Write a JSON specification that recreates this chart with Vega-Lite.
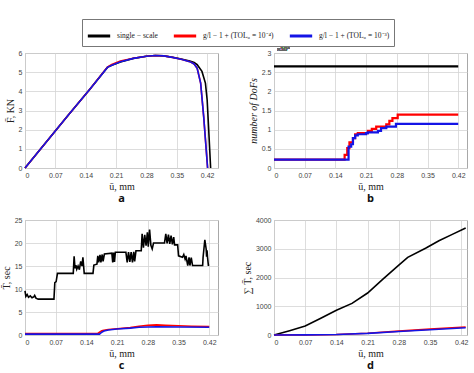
{
  "$schema": "https://vega.github.io/schema/vega-lite/v6.json",
  "padding": {"left": 0, "top": 18, "right": 8, "bottom": 0},
  "datasets": {
    "a": [
      {"s": "single − scale", "u": 0, "v": 0},
      {"s": "single − scale", "u": 0.05, "v": 1.38},
      {"s": "single − scale", "u": 0.1, "v": 2.76},
      {"s": "single − scale", "u": 0.15, "v": 4.12},
      {"s": "single − scale", "u": 0.19, "v": 5.25},
      {"s": "single − scale", "u": 0.2, "v": 5.36},
      {"s": "single − scale", "u": 0.22, "v": 5.53},
      {"s": "single − scale", "u": 0.25, "v": 5.72},
      {"s": "single − scale", "u": 0.28, "v": 5.83},
      {"s": "single − scale", "u": 0.3, "v": 5.87},
      {"s": "single − scale", "u": 0.32, "v": 5.85},
      {"s": "single − scale", "u": 0.34, "v": 5.78},
      {"s": "single − scale", "u": 0.36, "v": 5.69},
      {"s": "single − scale", "u": 0.38, "v": 5.58},
      {"s": "single − scale", "u": 0.39, "v": 5.5},
      {"s": "single − scale", "u": 0.397, "v": 5.39},
      {"s": "single − scale", "u": 0.408, "v": 5.04},
      {"s": "single − scale", "u": 0.416, "v": 4.43},
      {"s": "single − scale", "u": 0.42, "v": 3.55},
      {"s": "single − scale", "u": 0.424, "v": 1.8},
      {"s": "single − scale", "u": 0.428, "v": 0},
      {"s": "g/l − 1 + (TOLᵤ = 10⁻⁴)", "u": 0, "v": 0},
      {"s": "g/l − 1 + (TOLᵤ = 10⁻⁴)", "u": 0.05, "v": 1.38},
      {"s": "g/l − 1 + (TOLᵤ = 10⁻⁴)", "u": 0.1, "v": 2.76},
      {"s": "g/l − 1 + (TOLᵤ = 10⁻⁴)", "u": 0.15, "v": 4.12},
      {"s": "g/l − 1 + (TOLᵤ = 10⁻⁴)", "u": 0.19, "v": 5.27},
      {"s": "g/l − 1 + (TOLᵤ = 10⁻⁴)", "u": 0.2, "v": 5.4},
      {"s": "g/l − 1 + (TOLᵤ = 10⁻⁴)", "u": 0.22, "v": 5.58},
      {"s": "g/l − 1 + (TOLᵤ = 10⁻⁴)", "u": 0.25, "v": 5.73},
      {"s": "g/l − 1 + (TOLᵤ = 10⁻⁴)", "u": 0.28, "v": 5.83},
      {"s": "g/l − 1 + (TOLᵤ = 10⁻⁴)", "u": 0.3, "v": 5.87},
      {"s": "g/l − 1 + (TOLᵤ = 10⁻⁴)", "u": 0.32, "v": 5.85},
      {"s": "g/l − 1 + (TOLᵤ = 10⁻⁴)", "u": 0.34, "v": 5.77},
      {"s": "g/l − 1 + (TOLᵤ = 10⁻⁴)", "u": 0.36, "v": 5.67},
      {"s": "g/l − 1 + (TOLᵤ = 10⁻⁴)", "u": 0.38, "v": 5.55},
      {"s": "g/l − 1 + (TOLᵤ = 10⁻⁴)", "u": 0.39, "v": 5.43},
      {"s": "g/l − 1 + (TOLᵤ = 10⁻⁴)", "u": 0.397, "v": 5.2},
      {"s": "g/l − 1 + (TOLᵤ = 10⁻⁴)", "u": 0.405, "v": 4.43},
      {"s": "g/l − 1 + (TOLᵤ = 10⁻⁴)", "u": 0.412, "v": 2.68},
      {"s": "g/l − 1 + (TOLᵤ = 10⁻⁴)", "u": 0.417, "v": 1.2},
      {"s": "g/l − 1 + (TOLᵤ = 10⁻⁴)", "u": 0.421, "v": 0},
      {"s": "g/l − 1 + (TOLᵤ = 10⁻³)", "u": 0, "v": 0},
      {"s": "g/l − 1 + (TOLᵤ = 10⁻³)", "u": 0.05, "v": 1.38},
      {"s": "g/l − 1 + (TOLᵤ = 10⁻³)", "u": 0.1, "v": 2.76},
      {"s": "g/l − 1 + (TOLᵤ = 10⁻³)", "u": 0.15, "v": 4.12},
      {"s": "g/l − 1 + (TOLᵤ = 10⁻³)", "u": 0.19, "v": 5.25},
      {"s": "g/l − 1 + (TOLᵤ = 10⁻³)", "u": 0.2, "v": 5.36},
      {"s": "g/l − 1 + (TOLᵤ = 10⁻³)", "u": 0.22, "v": 5.54},
      {"s": "g/l − 1 + (TOLᵤ = 10⁻³)", "u": 0.25, "v": 5.72},
      {"s": "g/l − 1 + (TOLᵤ = 10⁻³)", "u": 0.28, "v": 5.83},
      {"s": "g/l − 1 + (TOLᵤ = 10⁻³)", "u": 0.3, "v": 5.87},
      {"s": "g/l − 1 + (TOLᵤ = 10⁻³)", "u": 0.32, "v": 5.85},
      {"s": "g/l − 1 + (TOLᵤ = 10⁻³)", "u": 0.34, "v": 5.77},
      {"s": "g/l − 1 + (TOLᵤ = 10⁻³)", "u": 0.36, "v": 5.67},
      {"s": "g/l − 1 + (TOLᵤ = 10⁻³)", "u": 0.38, "v": 5.55},
      {"s": "g/l − 1 + (TOLᵤ = 10⁻³)", "u": 0.39, "v": 5.43},
      {"s": "g/l − 1 + (TOLᵤ = 10⁻³)", "u": 0.397, "v": 5.2},
      {"s": "g/l − 1 + (TOLᵤ = 10⁻³)", "u": 0.405, "v": 4.43},
      {"s": "g/l − 1 + (TOLᵤ = 10⁻³)", "u": 0.412, "v": 2.68},
      {"s": "g/l − 1 + (TOLᵤ = 10⁻³)", "u": 0.417, "v": 1.2},
      {"s": "g/l − 1 + (TOLᵤ = 10⁻³)", "u": 0.421, "v": 0}
    ],
    "b": [
      {"s": "single − scale", "u": 0, "v": 26500},
      {"s": "single − scale", "u": 0.42, "v": 26500},
      {"s": "g/l − 1 + (TOLᵤ = 10⁻⁴)", "u": 0, "v": 2200},
      {"s": "g/l − 1 + (TOLᵤ = 10⁻⁴)", "u": 0.161, "v": 3400},
      {"s": "g/l − 1 + (TOLᵤ = 10⁻⁴)", "u": 0.167, "v": 5200},
      {"s": "g/l − 1 + (TOLᵤ = 10⁻⁴)", "u": 0.172, "v": 6700},
      {"s": "g/l − 1 + (TOLᵤ = 10⁻⁴)", "u": 0.18, "v": 7800},
      {"s": "g/l − 1 + (TOLᵤ = 10⁻⁴)", "u": 0.185, "v": 8800},
      {"s": "g/l − 1 + (TOLᵤ = 10⁻⁴)", "u": 0.191, "v": 9100},
      {"s": "g/l − 1 + (TOLᵤ = 10⁻⁴)", "u": 0.214, "v": 9700},
      {"s": "g/l − 1 + (TOLᵤ = 10⁻⁴)", "u": 0.223, "v": 10200},
      {"s": "g/l − 1 + (TOLᵤ = 10⁻⁴)", "u": 0.233, "v": 10800},
      {"s": "g/l − 1 + (TOLᵤ = 10⁻⁴)", "u": 0.256, "v": 11400},
      {"s": "g/l − 1 + (TOLᵤ = 10⁻⁴)", "u": 0.263, "v": 12300},
      {"s": "g/l − 1 + (TOLᵤ = 10⁻⁴)", "u": 0.27, "v": 13000},
      {"s": "g/l − 1 + (TOLᵤ = 10⁻⁴)", "u": 0.282, "v": 13900},
      {"s": "g/l − 1 + (TOLᵤ = 10⁻⁴)", "u": 0.42, "v": 13900},
      {"s": "g/l − 1 + (TOLᵤ = 10⁻³)", "u": 0, "v": 2200},
      {"s": "g/l − 1 + (TOLᵤ = 10⁻³)", "u": 0.17, "v": 5600},
      {"s": "g/l − 1 + (TOLᵤ = 10⁻³)", "u": 0.176, "v": 6200},
      {"s": "g/l − 1 + (TOLᵤ = 10⁻³)", "u": 0.18, "v": 7800},
      {"s": "g/l − 1 + (TOLᵤ = 10⁻³)", "u": 0.185, "v": 8500},
      {"s": "g/l − 1 + (TOLᵤ = 10⁻³)", "u": 0.191, "v": 8800},
      {"s": "g/l − 1 + (TOLᵤ = 10⁻³)", "u": 0.21, "v": 9100},
      {"s": "g/l − 1 + (TOLᵤ = 10⁻³)", "u": 0.214, "v": 9300},
      {"s": "g/l − 1 + (TOLᵤ = 10⁻³)", "u": 0.237, "v": 9700},
      {"s": "g/l − 1 + (TOLᵤ = 10⁻³)", "u": 0.244, "v": 10400},
      {"s": "g/l − 1 + (TOLᵤ = 10⁻³)", "u": 0.256, "v": 10800},
      {"s": "g/l − 1 + (TOLᵤ = 10⁻³)", "u": 0.278, "v": 11500},
      {"s": "g/l − 1 + (TOLᵤ = 10⁻³)", "u": 0.42, "v": 11500}
    ],
    "c": [
      {"s": "single − scale", "u": 0, "v": 9.6},
      {"s": "single − scale", "u": 0.002, "v": 8.4},
      {"s": "single − scale", "u": 0.005, "v": 8.8},
      {"s": "single − scale", "u": 0.008, "v": 8.2},
      {"s": "single − scale", "u": 0.012, "v": 8.5},
      {"s": "single − scale", "u": 0.016, "v": 8.1},
      {"s": "single − scale", "u": 0.02, "v": 8.3},
      {"s": "single − scale", "u": 0.022, "v": 8.6},
      {"s": "single − scale", "u": 0.025, "v": 8.0},
      {"s": "single − scale", "u": 0.03, "v": 7.8},
      {"s": "single − scale", "u": 0.066, "v": 7.8},
      {"s": "single − scale", "u": 0.068, "v": 11.4},
      {"s": "single − scale", "u": 0.071, "v": 11.6},
      {"s": "single − scale", "u": 0.074, "v": 13.4},
      {"s": "single − scale", "u": 0.11, "v": 13.4},
      {"s": "single − scale", "u": 0.112, "v": 17.1},
      {"s": "single − scale", "u": 0.114, "v": 14.5},
      {"s": "single − scale", "u": 0.116, "v": 15.2},
      {"s": "single − scale", "u": 0.118, "v": 14.3},
      {"s": "single − scale", "u": 0.121, "v": 15.0},
      {"s": "single − scale", "u": 0.124, "v": 14.2},
      {"s": "single − scale", "u": 0.127, "v": 16.0},
      {"s": "single − scale", "u": 0.13, "v": 15.0},
      {"s": "single − scale", "u": 0.132, "v": 16.9},
      {"s": "single − scale", "u": 0.135, "v": 13.4},
      {"s": "single − scale", "u": 0.155, "v": 13.4},
      {"s": "single − scale", "u": 0.157, "v": 15.2},
      {"s": "single − scale", "u": 0.164, "v": 15.4},
      {"s": "single − scale", "u": 0.166, "v": 17.2},
      {"s": "single − scale", "u": 0.168, "v": 15.8},
      {"s": "single − scale", "u": 0.171, "v": 17.4},
      {"s": "single − scale", "u": 0.173, "v": 15.8},
      {"s": "single − scale", "u": 0.176, "v": 17.5},
      {"s": "single − scale", "u": 0.178, "v": 16.0},
      {"s": "single − scale", "u": 0.181, "v": 17.6},
      {"s": "single − scale", "u": 0.198, "v": 17.8},
      {"s": "single − scale", "u": 0.2, "v": 15.8},
      {"s": "single − scale", "u": 0.202, "v": 17.9},
      {"s": "single − scale", "u": 0.204, "v": 15.9},
      {"s": "single − scale", "u": 0.206, "v": 18.0},
      {"s": "single − scale", "u": 0.23, "v": 18.0},
      {"s": "single − scale", "u": 0.233, "v": 15.8},
      {"s": "single − scale", "u": 0.236, "v": 18.0},
      {"s": "single − scale", "u": 0.239, "v": 15.9},
      {"s": "single − scale", "u": 0.242, "v": 18.0},
      {"s": "single − scale", "u": 0.245, "v": 15.8},
      {"s": "single − scale", "u": 0.248, "v": 18.1},
      {"s": "single − scale", "u": 0.25, "v": 16.0},
      {"s": "single − scale", "u": 0.253, "v": 18.3},
      {"s": "single − scale", "u": 0.265, "v": 18.3},
      {"s": "single − scale", "u": 0.267, "v": 22.0},
      {"s": "single − scale", "u": 0.27, "v": 19.0},
      {"s": "single − scale", "u": 0.273, "v": 21.8},
      {"s": "single − scale", "u": 0.276, "v": 19.4},
      {"s": "single − scale", "u": 0.279, "v": 22.3},
      {"s": "single − scale", "u": 0.281, "v": 19.2},
      {"s": "single − scale", "u": 0.284, "v": 22.9},
      {"s": "single − scale", "u": 0.287, "v": 19.5},
      {"s": "single − scale", "u": 0.29, "v": 18.7},
      {"s": "single − scale", "u": 0.293, "v": 20.0},
      {"s": "single − scale", "u": 0.318, "v": 20.0},
      {"s": "single − scale", "u": 0.321, "v": 22.0},
      {"s": "single − scale", "u": 0.324, "v": 19.9},
      {"s": "single − scale", "u": 0.327, "v": 21.8},
      {"s": "single − scale", "u": 0.33, "v": 19.8},
      {"s": "single − scale", "u": 0.333, "v": 21.6},
      {"s": "single − scale", "u": 0.336, "v": 19.7},
      {"s": "single − scale", "u": 0.339, "v": 21.3},
      {"s": "single − scale", "u": 0.341, "v": 19.6},
      {"s": "single − scale", "u": 0.348, "v": 19.6},
      {"s": "single − scale", "u": 0.35, "v": 17.2},
      {"s": "single − scale", "u": 0.359, "v": 16.9},
      {"s": "single − scale", "u": 0.362, "v": 17.5},
      {"s": "single − scale", "u": 0.365, "v": 16.5},
      {"s": "single − scale", "u": 0.367, "v": 17.2},
      {"s": "single − scale", "u": 0.371, "v": 15.1},
      {"s": "single − scale", "u": 0.374, "v": 16.9},
      {"s": "single − scale", "u": 0.376, "v": 15.1},
      {"s": "single − scale", "u": 0.379, "v": 16.8},
      {"s": "single − scale", "u": 0.382, "v": 15.1},
      {"s": "single − scale", "u": 0.405, "v": 15.1},
      {"s": "single − scale", "u": 0.406, "v": 16.9},
      {"s": "single − scale", "u": 0.41, "v": 20.7},
      {"s": "single − scale", "u": 0.413, "v": 18.7},
      {"s": "single − scale", "u": 0.414, "v": 17.0},
      {"s": "single − scale", "u": 0.415, "v": 18.4},
      {"s": "single − scale", "u": 0.416, "v": 17.0},
      {"s": "single − scale", "u": 0.418, "v": 15.2},
      {"s": "single − scale", "u": 0.42, "v": 15.2},
      {"s": "g/l − 1 + (TOLᵤ = 10⁻⁴)", "u": 0, "v": 0.3},
      {"s": "g/l − 1 + (TOLᵤ = 10⁻⁴)", "u": 0.165, "v": 0.3},
      {"s": "g/l − 1 + (TOLᵤ = 10⁻⁴)", "u": 0.17, "v": 0.6},
      {"s": "g/l − 1 + (TOLᵤ = 10⁻⁴)", "u": 0.175, "v": 0.9},
      {"s": "g/l − 1 + (TOLᵤ = 10⁻⁴)", "u": 0.18, "v": 1.0},
      {"s": "g/l − 1 + (TOLᵤ = 10⁻⁴)", "u": 0.19, "v": 1.2},
      {"s": "g/l − 1 + (TOLᵤ = 10⁻⁴)", "u": 0.21, "v": 1.35},
      {"s": "g/l − 1 + (TOLᵤ = 10⁻⁴)", "u": 0.24, "v": 1.6},
      {"s": "g/l − 1 + (TOLᵤ = 10⁻⁴)", "u": 0.26, "v": 1.9},
      {"s": "g/l − 1 + (TOLᵤ = 10⁻⁴)", "u": 0.28, "v": 2.1},
      {"s": "g/l − 1 + (TOLᵤ = 10⁻⁴)", "u": 0.3, "v": 2.2},
      {"s": "g/l − 1 + (TOLᵤ = 10⁻⁴)", "u": 0.32, "v": 2.1},
      {"s": "g/l − 1 + (TOLᵤ = 10⁻⁴)", "u": 0.35, "v": 2.0},
      {"s": "g/l − 1 + (TOLᵤ = 10⁻⁴)", "u": 0.38, "v": 1.9},
      {"s": "g/l − 1 + (TOLᵤ = 10⁻⁴)", "u": 0.42, "v": 1.85},
      {"s": "g/l − 1 + (TOLᵤ = 10⁻³)", "u": 0, "v": 0.2},
      {"s": "g/l − 1 + (TOLᵤ = 10⁻³)", "u": 0.17, "v": 0.2},
      {"s": "g/l − 1 + (TOLᵤ = 10⁻³)", "u": 0.175, "v": 0.6},
      {"s": "g/l − 1 + (TOLᵤ = 10⁻³)", "u": 0.18, "v": 0.85},
      {"s": "g/l − 1 + (TOLᵤ = 10⁻³)", "u": 0.19, "v": 1.1},
      {"s": "g/l − 1 + (TOLᵤ = 10⁻³)", "u": 0.21, "v": 1.3},
      {"s": "g/l − 1 + (TOLᵤ = 10⁻³)", "u": 0.24, "v": 1.5},
      {"s": "g/l − 1 + (TOLᵤ = 10⁻³)", "u": 0.26, "v": 1.7},
      {"s": "g/l − 1 + (TOLᵤ = 10⁻³)", "u": 0.28, "v": 1.75},
      {"s": "g/l − 1 + (TOLᵤ = 10⁻³)", "u": 0.3, "v": 1.8},
      {"s": "g/l − 1 + (TOLᵤ = 10⁻³)", "u": 0.35, "v": 1.75},
      {"s": "g/l − 1 + (TOLᵤ = 10⁻³)", "u": 0.42, "v": 1.7}
    ],
    "d": [
      {"s": "single − scale", "u": 0, "v": 0},
      {"s": "single − scale", "u": 0.035, "v": 150},
      {"s": "single − scale", "u": 0.07, "v": 310},
      {"s": "single − scale", "u": 0.105, "v": 580},
      {"s": "single − scale", "u": 0.14, "v": 860},
      {"s": "single − scale", "u": 0.175, "v": 1100},
      {"s": "single − scale", "u": 0.21, "v": 1460},
      {"s": "single − scale", "u": 0.245, "v": 1950},
      {"s": "single − scale", "u": 0.28, "v": 2430},
      {"s": "single − scale", "u": 0.3, "v": 2700},
      {"s": "single − scale", "u": 0.34, "v": 3020},
      {"s": "single − scale", "u": 0.37, "v": 3280},
      {"s": "single − scale", "u": 0.4, "v": 3500},
      {"s": "single − scale", "u": 0.43, "v": 3720},
      {"s": "g/l − 1 + (TOLᵤ = 10⁻⁴)", "u": 0, "v": 0},
      {"s": "g/l − 1 + (TOLᵤ = 10⁻⁴)", "u": 0.07, "v": 5},
      {"s": "g/l − 1 + (TOLᵤ = 10⁻⁴)", "u": 0.14, "v": 20},
      {"s": "g/l − 1 + (TOLᵤ = 10⁻⁴)", "u": 0.21, "v": 60},
      {"s": "g/l − 1 + (TOLᵤ = 10⁻⁴)", "u": 0.28, "v": 135},
      {"s": "g/l − 1 + (TOLᵤ = 10⁻⁴)", "u": 0.35, "v": 205},
      {"s": "g/l − 1 + (TOLᵤ = 10⁻⁴)", "u": 0.43, "v": 280},
      {"s": "g/l − 1 + (TOLᵤ = 10⁻³)", "u": 0, "v": 0},
      {"s": "g/l − 1 + (TOLᵤ = 10⁻³)", "u": 0.07, "v": 5},
      {"s": "g/l − 1 + (TOLᵤ = 10⁻³)", "u": 0.14, "v": 18},
      {"s": "g/l − 1 + (TOLᵤ = 10⁻³)", "u": 0.21, "v": 55},
      {"s": "g/l − 1 + (TOLᵤ = 10⁻³)", "u": 0.28, "v": 120},
      {"s": "g/l − 1 + (TOLᵤ = 10⁻³)", "u": 0.35, "v": 180},
      {"s": "g/l − 1 + (TOLᵤ = 10⁻³)", "u": 0.43, "v": 250}
    ]
  },
  "columns": 2,
  "spacing": {"row": 10, "column": 22},
  "concat": [
    {
      "width": 193, "height": 115,
      "data": {"name": "a"},
      "title": "a",
      "mark": {"type": "line", "strokeWidth": 1.6},
      "encoding": {
        "x": {"field": "u", "type": "quantitative", "scale": {"domain": [0, 0.445], "nice": false, "zero": false},
              "axis": {"values": [0, 0.07, 0.14, 0.21, 0.28, 0.35, 0.42], "format": ".2~f", "title": "ū, mm"}},
        "y": {"field": "v", "type": "quantitative", "scale": {"domain": [0, 6], "nice": false},
              "axis": {"values": [0, 1, 2, 3, 4, 5, 6], "title": "F̄, KN"}},
        "color": {"field": "s", "type": "nominal",
                  "scale": {"domain": ["single − scale", "g/l − 1 + (TOLᵤ = 10⁻⁴)", "g/l − 1 + (TOLᵤ = 10⁻³)"], "range": ["#000000", "#ff0000", "#1414e6"]},
                  "legend": {"title": null, "orient": "none", "legendX": 57, "legendY": -34}}
      }
    },
    {
      "width": 193, "height": 115,
      "data": {"name": "b"},
      "title": "b",
      "encoding": {
        "x": {"field": "u", "type": "quantitative", "scale": {"domain": [0, 0.44], "nice": false, "zero": false},
              "axis": {"values": [0, 0.07, 0.14, 0.21, 0.28, 0.35, 0.42], "format": ".2~f", "title": "ū, mm", "labelOverlap": false}},
        "y": {"field": "v", "type": "quantitative", "scale": {"domain": [0, 30000], "nice": false},
              "axis": {"values": [0, 5000, 10000, 15000, 20000, 25000, 30000], "labelExpr": "format(datum.value/10000, '~g')", "title": "number of DoFs", "titleFontStyle": "italic", "labelOverlap": false}}
      },
      "layer": [
        {
          "mark": {"type": "line", "strokeWidth": 2.2, "interpolate": "step-after"},
          "encoding": {
            "color": {"field": "s", "type": "nominal",
                      "scale": {"domain": ["single − scale", "g/l − 1 + (TOLᵤ = 10⁻⁴)", "g/l − 1 + (TOLᵤ = 10⁻³)"], "range": ["#000000", "#ff0000", "#1414e6"]},
                      "legend": {"title": null, "orient": "none", "legendX": 57, "legendY": -34}}
          }
        },
        {
          "mark": {"type": "text", "text": "×10⁴", "align": "left", "baseline": "bottom", "dx": 3, "dy": -1, "fontSize": 6, "font": "Liberation Sans", "fontWeight": "normal", "color": "#666"},
          "encoding": {"x": {"datum": 0}, "y": {"datum": 30000}}
        }
      ]
    },
    {
      "width": 193, "height": 115,
      "data": {"name": "c"},
      "title": "c",
      "mark": {"type": "line", "strokeWidth": 1.6},
      "encoding": {
        "x": {"field": "u", "type": "quantitative", "scale": {"domain": [0, 0.44], "nice": false, "zero": false},
              "axis": {"values": [0, 0.07, 0.14, 0.21, 0.28, 0.35, 0.42], "format": ".2~f", "title": "ū, mm"}},
        "y": {"field": "v", "type": "quantitative", "scale": {"domain": [0, 25], "nice": false},
              "axis": {"values": [0, 5, 10, 15, 20, 25], "title": "T̄, sec"}},
        "color": {"field": "s", "type": "nominal",
                  "scale": {"domain": ["single − scale", "g/l − 1 + (TOLᵤ = 10⁻⁴)", "g/l − 1 + (TOLᵤ = 10⁻³)"], "range": ["#000000", "#ff0000", "#1414e6"]},
                  "legend": {"title": null, "orient": "none", "legendX": 57, "legendY": -34}}
      }
    },
    {
      "width": 193, "height": 115,
      "data": {"name": "d"},
      "title": "d",
      "mark": {"type": "line", "strokeWidth": 1.6},
      "encoding": {
        "x": {"field": "u", "type": "quantitative", "scale": {"domain": [0, 0.433], "nice": false, "zero": false},
              "axis": {"values": [0, 0.07, 0.14, 0.21, 0.28, 0.35, 0.42], "format": ".2~f", "title": "ū, mm"}},
        "y": {"field": "v", "type": "quantitative", "scale": {"domain": [0, 4000], "nice": false},
              "axis": {"values": [0, 1000, 2000, 3000, 4000], "format": "d", "title": "∑ T̄, sec"}},
        "color": {"field": "s", "type": "nominal",
                  "scale": {"domain": ["single − scale", "g/l − 1 + (TOLᵤ = 10⁻⁴)", "g/l − 1 + (TOLᵤ = 10⁻³)"], "range": ["#000000", "#ff0000", "#1414e6"]},
                  "legend": {"title": null, "orient": "none", "legendX": 57, "legendY": -34}}
      }
    }
  ],
  "config": {
    "view": {"stroke": "#a8a8a8", "strokeWidth": 1},
    "axis": {
      "labelFont": "Liberation Sans", "labelFontSize": 7, "labelColor": "#444", "labelOverlap": false,
      "titleFont": "Liberation Serif", "titleFontSize": 10, "titleFontWeight": "normal", "titleColor": "#222",
      "grid": true, "gridColor": "#d4d4d4", "gridWidth": 0.8, "ticks": false, "domain": false, "labelPadding": 3, "titlePadding": 3
    },
    "title": {"orient": "bottom", "font": "Open Sans", "fontSize": 11, "fontWeight": "bold", "offset": 2, "color": "#111"},
    "legend": {
      "direction": "horizontal", "symbolType": "stroke", "symbolStrokeWidth": 3, "symbolSize": 500,
      "labelFont": "Liberation Serif", "labelFontSize": 7.5, "labelColor": "#222", "labelLimit": 300, "labelOffset": 5,
      "strokeColor": "#777", "padding": 4, "columnPadding": 9, "symbolOffset": 0
    }
  }
}
